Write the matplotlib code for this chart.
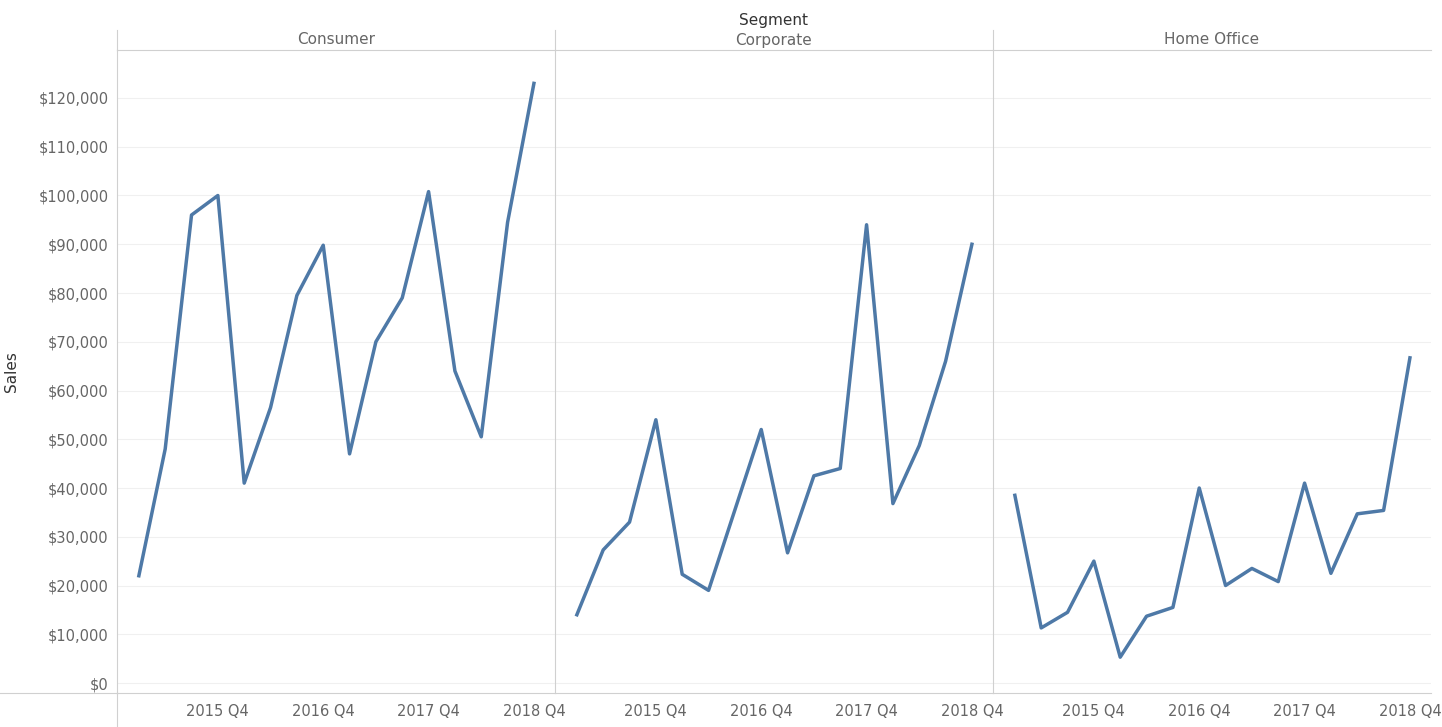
import matplotlib
matplotlib.use("Agg")
import matplotlib.pyplot as plt
from matplotlib.ticker import FuncFormatter

segments = ["Consumer", "Corporate", "Home Office"]
quarters = [f"{y} Q{q}" for y in range(2015, 2019) for q in range(1, 5)]
consumer = [22000, 48000, 96000, 100000, 41000, 56500, 79500, 89800, 47000, 70000, 79000, 100800, 64000, 50500, 94500, 123000]
corporate = [14000, 27300, 33000, 54000, 22300, 19000, 35500, 52000, 26700, 42500, 44000, 94000, 36800, 48700, 66000, 90000]
home_office = [38500, 11300, 14500, 25000, 5300, 13700, 15500, 40000, 20000, 23500, 20800, 41000, 22500, 34700, 35400, 66700]
series = [consumer, corporate, home_office]
tick_labels = ["2015 Q4", "2016 Q4", "2017 Q4", "2018 Q4"]
tick_idx = [quarters.index(t) for t in tick_labels]

W, H = 1442, 727
fig = plt.figure(figsize=(W/100, H/100), dpi=100)
left, right, top, bottom = 117, 1431, 50, 693
pw = (right-left)/3
grey = "#d0d0d0"
tc = "#666666"
for i, (seg, vals) in enumerate(zip(segments, series)):
    ax = fig.add_axes([(left+i*pw)/W, (H-bottom)/H, pw/W, (bottom-top)/H])
    ax.plot(range(16), vals, color="#4e79a7", lw=2.5)
    ax.set_xlim(-0.83, 15.8)
    ax.set_ylim(-2051, 129846)
    ax.set_yticks(range(0, 130000, 10000))
    ax.yaxis.grid(True, color="#f0f0f0", lw=0.8)
    ax.set_axisbelow(True)
    ax.set_xticks(tick_idx)
    ax.set_xticklabels(tick_labels, fontsize=10.5, color=tc)
    ax.tick_params(axis="x", length=0, pad=8)
    for s in ["top", "right"]:
        ax.spines[s].set_visible(False)
    ax.spines["bottom"].set_color(grey)
    ax.spines["left"].set_color(grey)
    if i == 0:
        ax.yaxis.set_major_formatter(FuncFormatter(lambda v, p: f"${v:,.0f}"))
        ax.tick_params(axis="y", labelsize=10.5, labelcolor=tc, length=0, pad=6)
        ax.set_ylabel("Sales", fontsize=11, color="#333333", labelpad=14)
    else:
        ax.tick_params(axis="y", left=False, labelleft=False)
    if i == 2:
        ax.spines["right"].set_visible(True)
        ax.spines["right"].set_visible(False)
    fig.text((left+(i+0.5)*pw)/W, (H-40)/H, seg, ha="center", va="center", fontsize=11, color=tc)
    # header dividers
    fig.add_artist(plt.Line2D([(left+i*pw)/W]*2, [(H-top)/H, (H-30)/H], color=grey, lw=0.8))
fig.add_artist(plt.Line2D([left/W, right/W], [(H-top)/H]*2, color=grey, lw=0.8))
fig.add_artist(plt.Line2D([left/W]*2, [0, (H-bottom)/H], color=grey, lw=0.8))
fig.add_artist(plt.Line2D([0, left/W], [(H-bottom)/H]*2, color=grey, lw=0.8))
fig.text((left+right)/2/W, (H-20)/H, "Segment", ha="center", va="center", fontsize=11, color="#333333")
fig.savefig("out.png", dpi=100)
